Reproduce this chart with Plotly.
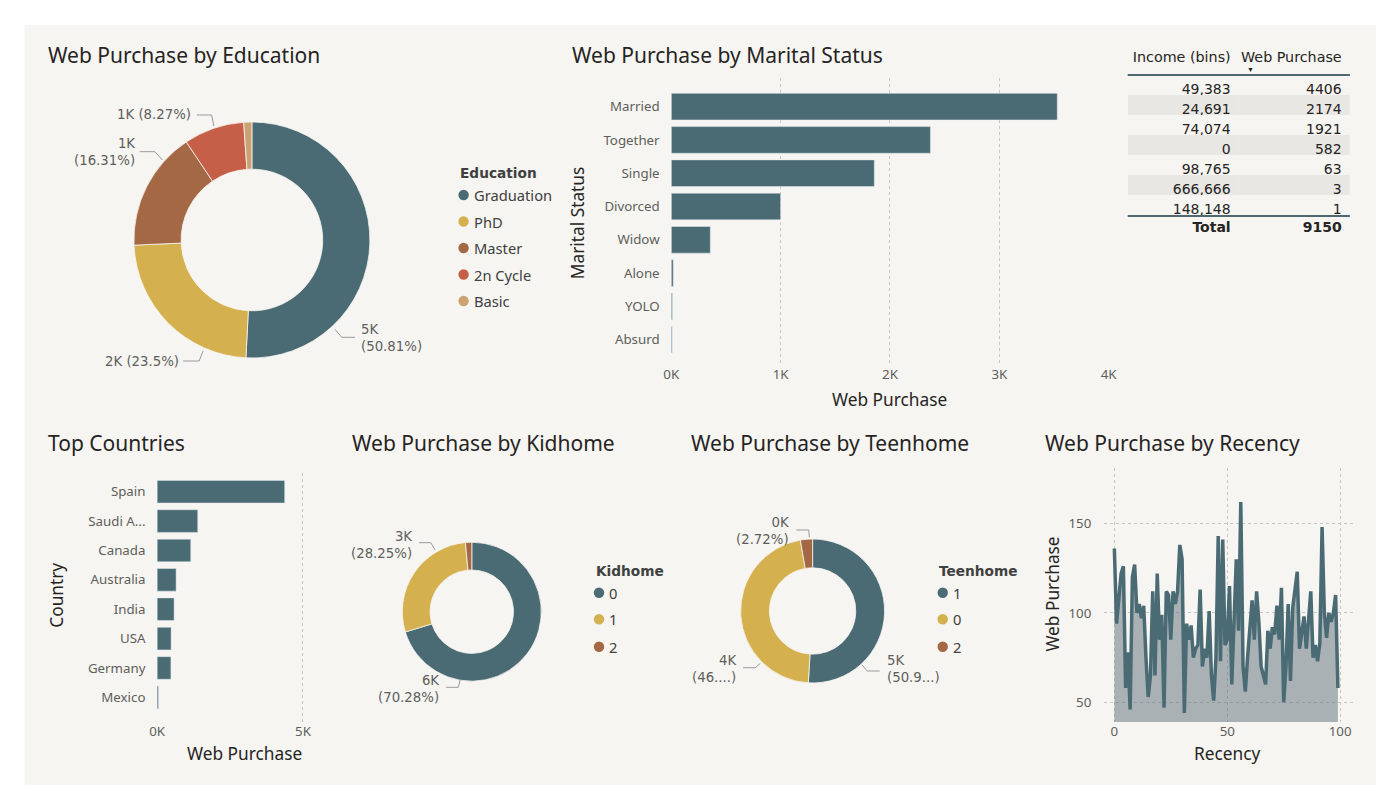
import plotly.graph_objects as go

W, H = 1400, 810
# Horizontal calibration measured from earlier renders of this page:
# rendered_x ~= 8.3 + 0.987 * figure_x ; vertical positions are unchanged.
CAL_A, CAL_S = 8.3, 0.987

# ---------------- data ----------------
education = ["Graduation", "PhD", "Master", "2n Cycle", "Basic"]
education_wp = [4649, 2150, 1492, 757, 102]

marital = ["Married", "Together", "Single", "Divorced", "Widow", "Alone", "YOLO", "Absurd"]
marital_wp = [3530, 2370, 1857, 1000, 357, 18, 10, 8]

countries = ["Spain", "Saudi A...", "Canada", "Australia", "India", "USA", "Germany", "Mexico"]
country_wp = [4373, 1393, 1153, 651, 582, 480, 472, 46]

kidhome = ["0", "1", "2"]
kidhome_wp = [6431, 2585, 134]

teenhome = ["1", "0", "2"]
teenhome_wp = [4662, 4239, 249]

income_bins = ["49,383", "24,691", "74,074", "0", "98,765", "666,666", "148,148"]
income_wp = [4406, 2174, 1921, 582, 63, 3, 1]

recency = list(range(100))
recency_wp = [136, 94, 108, 122, 126, 58, 78, 46, 120, 127,
              100, 105, 97, 104, 75, 53, 65, 112, 65, 122,
              85, 99, 47, 112, 110, 85, 112, 105, 112, 138,
              130, 44, 94, 85, 93, 75, 80, 82, 113, 70,
              80, 75, 101, 65, 51, 75, 143, 73, 141, 82,
              85, 115, 60, 95, 130, 90, 162, 70, 56, 75,
              90, 107, 85, 112, 95, 70, 65, 60, 90, 80,
              92, 88, 104, 85, 114, 50, 70, 105, 62, 103,
              113, 123, 80, 90, 98, 80, 96, 112, 75, 82,
              73, 83, 148, 100, 86, 100, 95, 100, 110, 58]

marital_ticks = [0, 1000, 2000, 3000, 4000]
country_ticks = [0, 5000]
recency_xticks = [0, 50, 100]
recency_yticks = [50, 100, 150]

# ---------------- style ----------------
PANEL = "#F6F5F1"
TEAL = "#4A6B74"
GOLD = "#D4B04F"
BROWN = "#A46844"
RED = "#C65F48"
TAN = "#CDA272"
TITLE_C = "#252423"
TICK_C = "#605E5C"
LABEL_C = "#605E5C"
GRID_C = "#C8C6C4"
LEAD_C = "#9A9A9A"
SANS = "Noto Sans"
VERD = "DejaVu Sans"
CLEAR = "rgba(0,0,0,0)"

edu_colors = [TEAL, GOLD, BROWN, RED, TAN]
kid_colors = [TEAL, GOLD, BROWN]
teen_colors = [TEAL, GOLD, BROWN]


def X(p):
    return ((p - CAL_A) / CAL_S) / W


def Y(p):
    return 1 - p / H


def kfmt(v):
    return f"{round(v / 1000)}K"


def pfmt(v, tot):
    s = f"{v / tot * 100:.2f}".rstrip("0").rstrip(".")
    return f"({s}%)"


fig = go.Figure()


def pie_domain(cx, cy, r):
    return dict(x=[X(cx - r), X(cx + r)], y=[Y(cy + r), Y(cy - r)])


for labels, vals, cols, (cx, cy, r) in [
    (education, education_wp, edu_colors, (252, 240, 118)),
    (kidhome, kidhome_wp, kid_colors, (471.7, 611.7, 69.5)),
    (teenhome, teenhome_wp, teen_colors, (812.2, 611, 72)),
]:
    fig.add_trace(go.Pie(
        labels=labels, values=vals, hole=0.6, sort=False, direction="clockwise",
        rotation=0, textinfo="none", showlegend=False,
        marker=dict(colors=cols, line=dict(color=PANEL, width=0.8)),
        domain=pie_domain(cx, cy, r), hoverinfo="label+value+percent",
    ))

# marital bars
fig.add_trace(go.Bar(
    x=marital_wp, y=marital, orientation="h", marker_color=TEAL, width=0.8,
    xaxis="x", yaxis="y", showlegend=False,
))
# country bars
fig.add_trace(go.Bar(
    x=country_wp, y=countries, orientation="h", marker_color=TEAL, width=0.77,
    xaxis="x2", yaxis="y2", showlegend=False,
))
# recency area
fig.add_trace(go.Scatter(
    x=recency, y=recency_wp, mode="lines", fill="tozeroy",
    fillcolor="rgba(92,109,121,0.5)", line=dict(color=TEAL, width=3.5),
    xaxis="x3", yaxis="y3", showlegend=False,
))

# table (body) + separate bold total row
tot = sum(income_wp)
row_fill = [PANEL if i % 2 == 0 else "#E8E7E3" for i in range(len(income_bins))]
NB = "\u00a0"
NOLINE = dict(width=0, color=CLEAR)
fig.add_trace(go.Table(
    domain=dict(x=[X(1127), X(1349)], y=[Y(238), Y(43.5)]),
    columnwidth=[111, 111],
    header=dict(values=[f"Income{NB}(bins)", f"Web{NB}Purchase"], align="right",
                font=dict(family=VERD, size=14.3, color=TITLE_C),
                fill_color=PANEL, line=NOLINE, height=31.5),
    cells=dict(values=[income_bins, [str(v) for v in income_wp]],
               align="right", font=dict(family=VERD, size=14, color=TITLE_C),
               fill_color=[row_fill, row_fill], line=NOLINE, height=20),
))
fig.add_trace(go.Table(
    domain=dict(x=[X(1127), X(1349)], y=[Y(247), Y(213)]),
    columnwidth=[111, 111],
    header=dict(values=["Total", str(tot)], align="right",
                font=dict(family=VERD, size=14, color=TITLE_C, weight="bold"),
                fill_color=CLEAR, line=NOLINE, height=20),
    cells=dict(values=[[], []], line=NOLINE, fill_color=CLEAR),
))

axis_common = dict(showline=False, zeroline=False, showgrid=True, gridcolor=GRID_C,
                   griddash="dot", gridwidth=1,
                   tickfont=dict(family=SANS, size=13.3, color=TICK_C), fixedrange=True)

ycat_common = dict(type="category", categoryorder="array", showgrid=False, showline=False,
                   zeroline=False, ticks="outside", ticklen=8, tickcolor=CLEAR,
                   tickfont=dict(family=SANS, size=13.3, color=TICK_C), fixedrange=True)

layout = dict(
    width=W, height=H, autosize=False,
    margin=dict(l=0, r=0, t=0, b=0),
    paper_bgcolor="white", plot_bgcolor=CLEAR,
    font=dict(family=SANS, color=TITLE_C),
    xaxis=dict(domain=[X(671), X(1108)], range=[0, 4000], tickvals=marital_ticks,
               ticktext=[kfmt(v) for v in marital_ticks], anchor="y", ticks="",
               **axis_common),
    yaxis=dict(domain=[Y(365), Y(78)], categoryarray=marital, range=[7.76, -0.86],
               anchor="x", **ycat_common),
    xaxis2=dict(domain=[X(157.3), X(331)], range=[0, 5960], tickvals=country_ticks,
                ticktext=[kfmt(v) for v in country_ticks], anchor="y2", ticks="",
                **axis_common),
    yaxis2=dict(domain=[Y(722), Y(473)], categoryarray=countries, range=[7.84, -0.637],
                anchor="x2", **ycat_common),
    xaxis3=dict(domain=[X(1103.3), X(1351.7)], range=[-4.6, 105.5], tickvals=recency_xticks,
                anchor="y3", ticks="", **axis_common),
    yaxis3=dict(domain=[Y(722), Y(468)], range=[39, 181], tickvals=recency_yticks,
                anchor="x3", ticks="outside", ticklen=9, tickcolor=CLEAR,
                **axis_common),
)

shapes = [
    dict(type="rect", xref="paper", yref="paper", x0=X(25), x1=X(1375), y0=Y(785), y1=Y(25),
         fillcolor=PANEL, line=dict(width=0), layer="below"),
    # table rules
    dict(type="line", xref="paper", yref="paper", x0=X(1127), x1=X(1349), y0=Y(75), y1=Y(75),
         line=dict(color="#4E6770", width=2)),
    dict(type="line", xref="paper", yref="paper", x0=X(1127), x1=X(1349), y0=Y(216),
         y1=Y(216), line=dict(color="#4E6770", width=2)),
]

annotations = []


def text(x, y, s, size, color=TITLE_C, family=SANS, xanchor="left", yanchor="middle",
         align="left", angle=0):
    annotations.append(dict(xref="paper", yref="paper", x=X(x), y=Y(y), text=s,
                            showarrow=False, xanchor=xanchor, yanchor=yanchor, align=align,
                            textangle=angle, font=dict(family=family, size=size, color=color)))


# titles
for s, x, y in [("Web Purchase by Education", 48, 55),
                ("Web Purchase by Marital Status", 571, 55),
                ("Top Countries", 48, 443),
                ("Web Purchase by Kidhome", 352, 443),
                ("Web Purchase by Teenhome", 690, 443),
                ("Web Purchase by Recency", 1044, 443)]:
    text(x - 1.5, y, s, 21)

# axis titles
text(889, 399, "Web Purchase", 17.3, xanchor="center")
text(578, 223, "Marital Status", 17.3, xanchor="center", angle=-90)
text(244.5, 753, "Web Purchase", 17.3, xanchor="center")
text(56, 595, "Country", 17.3, xanchor="center", angle=-90)
text(1226.7, 753, "Recency", 17.3, xanchor="center")
text(1051, 594, "Web Purchase", 17.3, xanchor="center", angle=-90)

# sort arrow in table header
text(1249.3, 70, "▼", 7, xanchor="center")


def lead(points):
    path = "M " + " L ".join(f"{X(a)},{Y(b)}" for a, b in points)
    shapes.append(dict(type="path", xref="paper", yref="paper", path=path,
                       line=dict(color=LEAD_C, width=1)))


def dlabel(x, y, s, xanchor):
    text(x, y, s, 13.3, color=LABEL_C, family=VERD, xanchor=xanchor,
         align="right" if xanchor == "right" else "left")


# education labels
et = sum(education_wp)
el = [kfmt(v) for v in education_wp]
ep = [pfmt(v, et) for v in education_wp]
dlabel(359.3, 337.7, f"{el[0]}<br>{ep[0]}", "left")
lead([(335, 329.3), (341.7, 337.3), (355, 337.3)])
dlabel(180.7, 361, f"{el[1]} {ep[1]}", "right")
lead([(183.3, 361), (199.3, 361), (203.3, 350.7)])
dlabel(136.7, 152.5, f"{el[2]}<br>{ep[2]}", "right")
lead([(140, 151.7), (155, 151.7), (162.7, 160)])
dlabel(192.7, 115, f"{el[3]} {ep[3]}", "right")
lead([(197, 115), (211.7, 115), (214, 126)])

# kidhome labels
kt = sum(kidhome_wp)
dlabel(414, 544.7, f"{kfmt(kidhome_wp[1])}<br>{pfmt(kidhome_wp[1], kt)}", "right")
lead([(419, 542.7), (430.7, 542.7), (435, 550)])
dlabel(440.7, 688.8, f"{kfmt(kidhome_wp[0])}<br>{pfmt(kidhome_wp[0], kt)}", "right")
lead([(446, 687.3), (458.3, 687.3), (460, 680)])

# teenhome labels (truncated like the original)
tt = sum(teenhome_wp)
dlabel(791, 530.5, f"{kfmt(teenhome_wp[2])}<br>{pfmt(teenhome_wp[2], tt)}", "right")
lead([(796, 530), (808.3, 530), (809, 537.3)])
dlabel(737.7, 669.2, f"{kfmt(teenhome_wp[1])}<br>{pfmt(teenhome_wp[1], tt)[:4]}...)", "right")
lead([(742.7, 667.7), (755, 667.7), (760, 663.3)])
dlabel(884.3, 669.2, f"{kfmt(teenhome_wp[0])}<br>{pfmt(teenhome_wp[0], tt)[:5]}...)", "left")
lead([(861.7, 665), (866.7, 671), (879.3, 671)])


# legends
def legend(title, x, ty, items, colors, ys, tx):
    text(x, ty, f"<b>{title}</b>", 13.7, color="#404040", family=VERD)
    for it, c, yy in zip(items, colors, ys):
        shapes.append(dict(type="circle", xref="paper", yref="paper",
                           x0=X(x + 0.3), x1=X(x + 10.7), y0=Y(yy + 5.2), y1=Y(yy - 5.2),
                           fillcolor=c, line=dict(width=0)))
        text(tx, yy, it, 14.7, color="#404040")


legend("Education", 458, 173, education, edu_colors, [195, 221.5, 248, 274.5, 301], 472)
legend("Kidhome", 593.3, 571, kidhome, kid_colors, [592.7, 619.3, 646.7], 606.7)
legend("Teenhome", 936.7, 571, teenhome, teen_colors, [592.7, 619.3, 646.7], 950.7)

layout["shapes"] = shapes
layout["annotations"] = annotations
fig.update_layout(**layout)

fig.write_html("out.html")
